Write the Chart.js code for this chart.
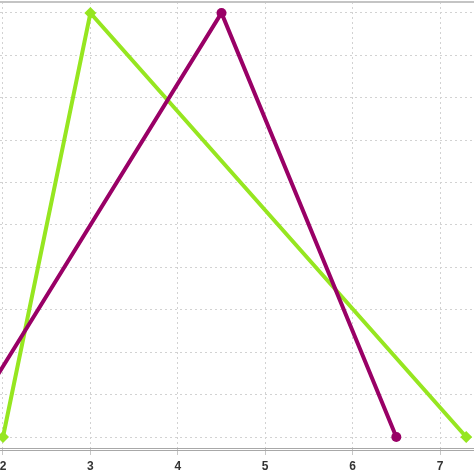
<!DOCTYPE html>
<html>
<head>
<meta charset="utf-8">
<script src="https://cdn.jsdelivr.net/npm/chart.js@4"></script>
<style>
  html, body { margin: 0; padding: 0; background: #fff; }
  #wrap { width: 474px; height: 474px; }
</style>
</head>
<body>
<div id="wrap"><canvas id="chart"></canvas></div>
<script>
// series values (x, membership)
const purpleX = [1.5, 4.5, 6.5];
const purpleY = [0, 10, 0];
const greenX = [2, 3, 7.3];
const greenY = [0, 10, 0];
// tick labels
const xTicks = [2, 3, 4, 5, 6, 7];
const yTicks = [0, 1, 2, 3, 4, 5, 6, 7, 8, 9, 10];

function toPoints(xs, ys) {
  return xs.map((x, i) => ({ x: x, y: ys[i] }));
}

// frame: gray line on top, double line along the x axis
const framePlugin = {
  id: 'frame',
  afterDraw(chart) {
    const ctx = chart.ctx;
    const a = chart.chartArea;
    ctx.save();
    ctx.strokeStyle = '#c4c4c4';
    ctx.lineWidth = 2;
    ctx.beginPath();
    ctx.moveTo(0, a.top);
    ctx.lineTo(a.right, a.top);
    ctx.stroke();
    ctx.strokeStyle = '#a8a8a8';
    ctx.lineWidth = 1;
    ctx.beginPath();
    ctx.moveTo(0, a.bottom - 0.5);
    ctx.lineTo(a.right, a.bottom - 0.5);
    ctx.moveTo(0, a.bottom + 1.5);
    ctx.lineTo(a.right, a.bottom + 1.5);
    ctx.stroke();
    ctx.restore();
  }
};

const ctx = document.getElementById('chart').getContext('2d');
new Chart(ctx, {
  type: 'scatter',
  data: {
    datasets: [
      {
        data: toPoints(purpleX, purpleY),
        showLine: true,
        borderColor: '#990066',
        backgroundColor: '#990066',
        borderWidth: 4,
        pointStyle: 'circle',
        pointRadius: 5,
        pointBorderWidth: 0,
        tension: 0,
        clip: false
      },
      {
        data: toPoints(greenX, greenY),
        showLine: true,
        borderColor: '#96e620',
        backgroundColor: '#96e620',
        borderWidth: 4,
        pointStyle: 'rectRot',
        pointRadius: 6,
        pointBorderWidth: 0,
        tension: 0,
        clip: false
      }
    ]
  },
  options: {
    responsive: true,
    maintainAspectRatio: false,
    animation: false,
    layout: { autoPadding: false, padding: { top: 2, left: 0, right: 0, bottom: 0 } },
    plugins: {
      legend: { display: false },
      tooltip: { enabled: false }
    },
    scales: {
      x: {
        type: 'linear',
        min: 1.9657,
        max: 7.389,
        afterBuildTicks: (scale) => {
          scale.ticks = xTicks.map(v => ({ value: v }));
        },
        afterFit: (scale) => {
          scale.height = 25;
          // labels may run past the edges, like the cropped original
          scale.paddingLeft = 0;
          scale.paddingRight = 0;
        },
        grid: {
          color: '#d2d2d2',
          lineWidth: 1,
          tickLength: 6,
          tickColor: '#c8c8c8'
        },
        border: { display: false, dash: [2, 3] },
        ticks: {
          padding: 4,
          color: '#333',
          font: { family: 'Liberation Sans', size: 12, weight: 'bold' },
          maxRotation: 0
        }
      },
      y: {
        min: -0.283,
        max: 10.259,
        afterBuildTicks: (scale) => {
          scale.ticks = yTicks.map(v => ({ value: v }));
        },
        afterFit: (scale) => {
          scale.width = 0;
          scale.paddingTop = 0;
          scale.paddingBottom = 0;
        },
        grid: { color: '#d2d2d2', lineWidth: 1, drawTicks: false },
        border: { display: false, dash: [2, 3] },
        ticks: { display: false }
      }
    }
  },
  plugins: [framePlugin]
});
</script>
</body>
</html>
